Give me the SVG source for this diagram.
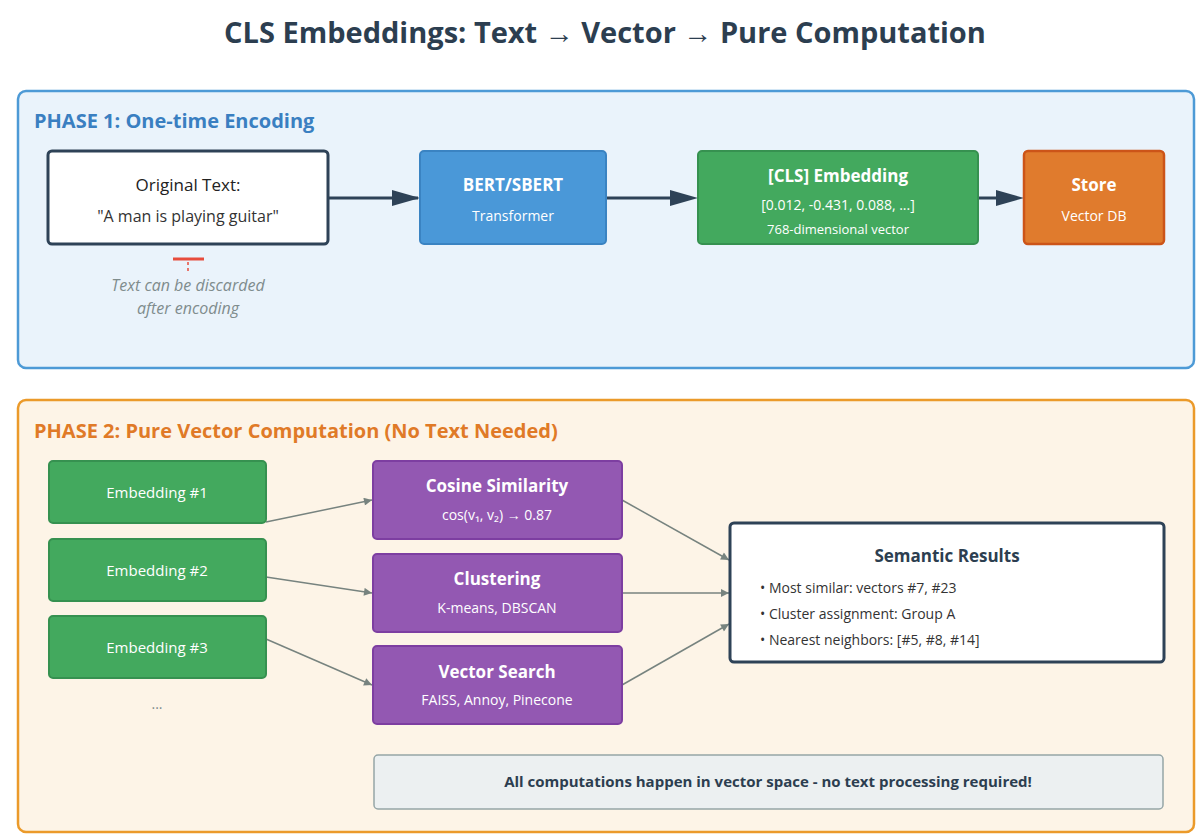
<svg xmlns="http://www.w3.org/2000/svg" width="1200" height="835" viewBox="0 0 1200 835">
<style>
text{font-family:"Open Sans","Noto Sans","Liberation Sans",sans-serif;text-anchor:middle}
.t{font-weight:bold;fill:#fff;font-size:17px}
.s{fill:#fff;font-size:14px}
.e{fill:#fff;font-size:15px}
.g{fill:#43a95e;stroke:#369150;stroke-width:2}
.p{fill:#9358b2;stroke:#7d3ea1;stroke-width:2}
.c{stroke:#2e4257;stroke-width:3;fill:none}
.l{stroke:#77837f;stroke-width:1.5;fill:none}
.r{fill:#333;font-size:14px;text-anchor:start}
</style>
<defs>
<marker id="a" viewBox="0 0 10 10" refX="10" refY="5" markerWidth="8" markerHeight="6" markerUnits="userSpaceOnUse" orient="auto" preserveAspectRatio="none"><path d="M0 0L10 5L0 10z" fill="#2e4257"/></marker>
<marker id="b" viewBox="0 0 10 10" refX="10" refY="5" markerWidth="12" markerHeight="8" markerUnits="userSpaceOnUse" orient="auto"><path d="M0 0L10 5L0 10z" fill="#77837f"/></marker>
</defs>
<rect width="1200" height="835" fill="#fff"/>
<text x="605" y="43" style="font-size:29px;font-weight:bold;fill:#2c3e50">CLS Embeddings: Text → Vector → Pure Computation</text>
<rect x="18" y="91" width="1176" height="277" rx="8" fill="#eaf3fb" stroke="#4d9ad6" stroke-width="2.5"/>
<text x="34" y="128" style="text-anchor:start;font-size:20px;font-weight:bold;fill:#3a7fc1">PHASE 1: One-time Encoding</text>
<rect x="18" y="400" width="1176" height="432" rx="8" fill="#fdf4e7" stroke="#eb9a2a" stroke-width="2.5"/>
<text x="34" y="438" style="text-anchor:start;font-size:20px;font-weight:bold;fill:#e07a27">PHASE 2: Pure Vector Computation (No Text Needed)</text>
<g id="connectors">
<path class="c" d="M328 198H418" marker-end="url(#a)" style="marker-end:none"/>
<path d="M392 190L420 198L392 206z" fill="#2e4257"/>
<path class="c" d="M606 198H672"/><path d="M670 190L698 198L670 206z" fill="#2e4257"/>
<path class="c" d="M978 198H1000"/><path d="M996 190L1024 198L996 206z" fill="#2e4257"/>
<path d="M173 259H204" stroke="#e74c3c" stroke-width="3"/>
<path d="M188 262V273" stroke="#e74c3c" stroke-width="1.5" stroke-dasharray="3,3"/>
<path class="l" d="M266 522L372 500" marker-end="url(#b)"/>
<path class="l" d="M266 577L372 593" marker-end="url(#b)"/>
<path class="l" d="M266 639L372 685" marker-end="url(#b)"/>
<path class="l" d="M622 500L729 560" marker-end="url(#b)"/>
<path class="l" d="M622 593H729" marker-end="url(#b)"/>
<path class="l" d="M622 685L729 624" marker-end="url(#b)"/>
</g>
<g id="original"><rect x="48" y="151" width="280" height="93" rx="4" fill="#fff" stroke="#2e4257" stroke-width="3"/>
<text x="188" y="191" style="font-size:17px;fill:#222">Original Text:</text>
<text x="188" y="222" style="font-size:16px;fill:#333">"A man is playing guitar"</text></g>
<g id="note"><text x="188" y="291" style="font-size:16px;font-style:italic;fill:#7f8c8d">Text can be discarded</text>
<text x="188" y="314" style="font-size:16px;font-style:italic;fill:#7f8c8d">after encoding</text></g>
<g id="bert"><rect x="420" y="151" width="186" height="93" rx="4" fill="#4a98d8" stroke="#3a83c2" stroke-width="2"/>
<text class="t" x="513" y="191">BERT/SBERT</text><text class="s" x="513" y="221">Transformer</text></g>
<g id="cls"><rect x="698" y="151" width="280" height="93" rx="4" class="g"/>
<text class="t" x="838" y="182">[CLS] Embedding</text><text class="s" x="838" y="210">[0.012, -0.431, 0.088, ...]</text><text class="s" x="838" y="234" style="font-size:13px">768-dimensional vector</text></g>
<g id="store"><rect x="1024" y="151" width="140" height="93" rx="4" fill="#e07b2d" stroke="#cc5418" stroke-width="2.5"/>
<text class="t" x="1094" y="191">Store</text><text class="s" x="1094" y="221">Vector DB</text></g>
<g id="e1"><rect x="49" y="461" width="217" height="62" rx="4" class="g"/><text class="e" x="157" y="498">Embedding #1</text></g>
<g id="e2"><rect x="49" y="539" width="217" height="62" rx="4" class="g"/><text class="e" x="157" y="576">Embedding #2</text></g>
<g id="e3"><rect x="49" y="616" width="217" height="62" rx="4" class="g"/><text class="e" x="157" y="653">Embedding #3</text></g>
<text x="157" y="709" style="font-size:14px;fill:#7f8c8d">...</text>
<g id="cos"><rect x="373" y="461" width="249" height="78" rx="4" class="p"/><text class="t" x="497" y="492">Cosine Similarity</text><text class="s" x="497" y="520">cos(v₁, v₂) → 0.87</text></g>
<g id="clu"><rect x="373" y="554" width="249" height="78" rx="4" class="p"/><text class="t" x="497" y="585">Clustering</text><text class="s" x="497" y="613">K-means, DBSCAN</text></g>
<g id="vs"><rect x="373" y="646" width="249" height="78" rx="4" class="p"/><text class="t" x="497" y="678">Vector Search</text><text class="s" x="497" y="705">FAISS, Annoy, Pinecone</text></g>
<g id="results"><rect x="730" y="523" width="434" height="139" rx="4" fill="#fff" stroke="#2e4257" stroke-width="3"/>
<text x="947" y="562" style="font-size:17px;font-weight:bold;fill:#2c3e50">Semantic Results</text>
<text class="r" x="760" y="593">• Most similar: vectors #7, #23</text>
<text class="r" x="760" y="619">• Cluster assignment: Group A</text>
<text class="r" x="760" y="645">• Nearest neighbors: [#5, #8, #14]</text></g>
<g id="footer"><rect x="374" y="755" width="789" height="54" rx="4" fill="#ecf0f1" stroke="#95a5a6" stroke-width="1.5"/>
<text x="768" y="787" style="font-size:15px;font-weight:bold;fill:#2c3e50">All computations happen in vector space - no text processing required!</text></g>
</svg>
